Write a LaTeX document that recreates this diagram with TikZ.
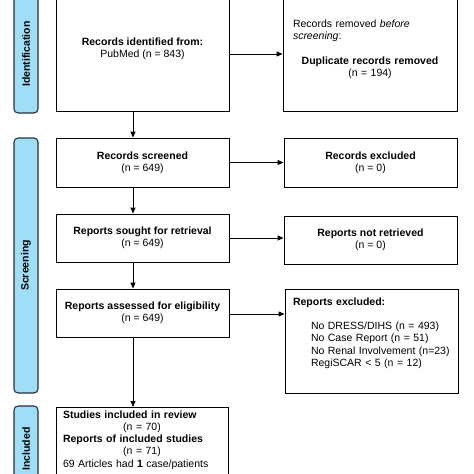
\documentclass[tikz,border=0pt]{standalone}
\usepackage{fontspec}
\setmainfont{Liberation Sans}
\usetikzlibrary{arrows.meta}
\definecolor{faseazul}{RGB}{160,221,247}
\definecolor{faseborda}{RGB}{35,50,65}
\begin{document}
\begin{tikzpicture}[x=1pt, y=-1pt,
    caixa/.style={draw, line width=0.9pt, minimum width=173pt, inner sep=0pt, align=center,
      font=\fontsize{10.5}{12.3}\selectfont},
    fase/.style={draw=faseborda, fill=faseazul, line width=1.1pt, rounded corners=4pt, rotate=90,
      minimum height=24pt, inner sep=0pt, font=\bfseries\fontsize{10.5}{12.3}\selectfont},
    seta/.style={-{Triangle[length=6pt,width=5pt]}, line width=0.9pt}]
    \useasboundingbox (0,0) rectangle (474,474);
    \clip (0,0) rectangle (474,474);

    % Fases
    \node[fase, minimum width=118pt] (fIdent) at (26,54) {Identification};
    \node[fase, minimum width=255pt] (fScreen) at (26,265.5) {Screening};
    \node[fase, minimum width=86pt] (fIncl) at (26,449) {Included};

    % Identificacao
    \node[caixa, minimum height=124pt] (ident) at (142.5,49) {\textbf{Records identified from:}\\PubMed (n = 843)};
    \node[caixa, minimum height=124pt, text width=154pt, inner xsep=10pt, align=left] (removed) at (370,49)
      {Records removed \textit{before}\\ \textit{screening}:\par\vspace{\baselineskip}
       \centerline{\textbf{Duplicate records removed}}\centerline{(n = 194)}};

    % Triagem
    \node[caixa, minimum height=49pt] (screened) at (142.5,162.5) {\textbf{Records screened}\\(n = 649)};
    \node[caixa, minimum height=49pt] (excl) at (370.5,162.5) {\textbf{Records excluded}\\(n = 0)};
    \node[caixa, minimum height=48pt] (sought) at (142.5,238) {\textbf{Reports sought for retrieval}\\(n = 649)};
    \node[caixa, minimum height=48pt] (notret) at (370.5,240) {\textbf{Reports not retrieved}\\(n = 0)};
    \node[caixa, minimum height=48pt] (assessed) at (142.5,313) {\textbf{Reports assessed for eligibility}\\(n = 649)};
    \node[caixa, minimum height=104pt, text width=157pt, inner xsep=8pt, align=left] (repexcl) at (371.5,341)
      {\textbf{Reports excluded:}\par\vspace{\baselineskip}
       {\leftskip=18pt No DRESS/DIHS (n = 493)\\No Case Report (n = 51)\\No Renal Involvement (n=23)\\RegiSCAR < 5 (n = 12)\rule[-18pt]{0pt}{0pt}\par}};

    % Incluidos
    \node[caixa, anchor=north, minimum width=172pt, text width=158pt, inner xsep=7pt, inner ysep=3pt, align=left] (incl) at (142,407)
      {\textbf{Studies included in review}\par\centerline{(n = 70)}
       \textbf{Reports of included studies}\par\centerline{(n = 71)}
       69 Articles had \textbf{1} case/patients\rule[-40pt]{0pt}{0pt}};

    % Setas
    \draw[seta] ([yshift=-5pt]ident.east) -- ([yshift=-5pt]ident.east -| removed.west);
    \draw[seta] (screened) -- (excl);
    \draw[seta] (sought.east) -- (sought.east -| notret.west);
    \draw[seta] ([yshift=-1pt]assessed.east) -- ([yshift=-1pt]assessed.east -| repexcl.west);
    \foreach \a/\b in {ident/screened, screened/sought, sought/assessed, assessed/incl}
      \draw[seta] ([xshift=-9.5pt]\a.south) -- ([xshift=-9.5pt]\a.south |- \b.north);
\end{tikzpicture}
\end{document}
